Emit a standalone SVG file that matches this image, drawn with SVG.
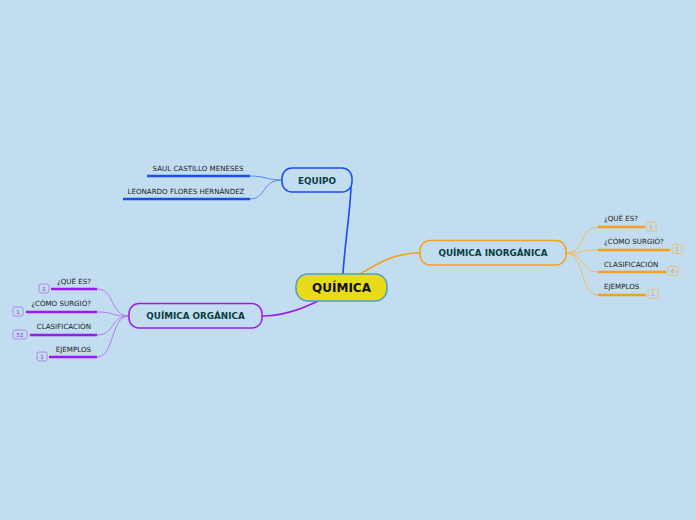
<svg xmlns="http://www.w3.org/2000/svg" width="696" height="520" viewBox="0 0 696 520">
<style>
.bg{fill:#c2ddf0}
.node{fill:#c2ddf0;stroke-width:1.5}
.nt{font-family:"DejaVu Sans",Verdana,sans-serif;font-weight:bold;font-size:8.8px;fill:#0b3d3d;text-anchor:middle}
.ct{font-family:"DejaVu Sans",Verdana,sans-serif;font-weight:bold;font-size:12px;fill:#111;text-anchor:middle}
.lt{font-family:"DejaVu Sans",Verdana,sans-serif;font-size:7.1px;fill:#222;text-anchor:middle}
.bt{font-family:"DejaVu Sans",Verdana,sans-serif;font-size:5.5px;text-anchor:middle}
.blue{stroke:#1a4cf0}
.orange{stroke:#f5a01a}
.purple{stroke:#9a1af0}
.thin{fill:none;stroke-width:0.9}
.main{fill:none;stroke-width:1.6}
.ul{stroke-width:2.4}
.badge{fill:#c2ddf0;stroke-width:0.8}
</style>
<rect class="bg" x="0" y="0" width="696" height="520"/>
<g id="connectors">
<path class="main blue" d="M343,274 C345,240 352,200 351,180"/>
<path class="main orange" d="M360,274 C380,262 395,253 420,253"/>
<path class="main purple" d="M318,301 C300,310 280,316 262,316"/>
<path class="thin blue" style="stroke:#4a7cf0" d="M250,176 C266,176 266,180 282,180"/>
<path class="thin blue" style="stroke:#4a7cf0" d="M250,199 C266,199 262,180 282,180"/>
<path class="thin orange" style="stroke:#f5b84a" d="M566,253 C585,253 580,227 598,227"/>
<path class="thin orange" style="stroke:#f5b84a" d="M566,253 C585,253 580,250 598,250"/>
<path class="thin orange" style="stroke:#f5b84a" d="M566,253 C585,253 580,272 598,272"/>
<path class="thin orange" style="stroke:#f5b84a" d="M566,253 C585,253 580,295 598,295"/>
<path class="thin purple" style="stroke:#b070f0" d="M129,316 C110,316 115,289 97,289"/>
<path class="thin purple" style="stroke:#b070f0" d="M129,316 C110,316 115,312 97,312"/>
<path class="thin purple" style="stroke:#b070f0" d="M129,316 C110,316 115,335 97,335"/>
<path class="thin purple" style="stroke:#b070f0" d="M129,316 C110,316 115,357 97,357"/>
</g>
<g id="quimica">
<rect x="296" y="274" width="91" height="27" rx="12" fill="#e8dc1a" stroke="#4a9fd0" stroke-width="1.5"/>
<text class="ct" x="341.5" y="292">QUÍMICA</text>
</g>
<g id="equipo">
<rect class="node blue" x="282" y="168" width="70" height="24" rx="10"/>
<text class="nt" x="317" y="184">EQUIPO</text>
</g>
<g id="saul">
<line class="ul blue" x1="147" y1="176" x2="250" y2="176"/>
<text class="lt" x="198" y="171">SAUL CASTILLO MENESES</text>
</g>
<g id="leonardo">
<line class="ul blue" x1="123" y1="199" x2="250" y2="199"/>
<text class="lt" x="186" y="194">LEONARDO FLORES HERNÁNDEZ</text>
</g>
<g id="inorganica">
<rect class="node orange" x="420" y="240.5" width="146" height="24.5" rx="10"/>
<text class="nt" x="493" y="256">QUÍMICA INORGÁNICA</text>
</g>
<g id="inorg-que">
<line class="ul orange" x1="598" y1="227" x2="645" y2="227"/>
<text class="lt" x="604" y="221" style="text-anchor:start">¿QUÉ ES?</text>
<rect class="badge orange" x="646" y="222" width="10" height="9" rx="2" style="stroke:#f5b84a"/>
<text class="bt" x="651" y="228.5" fill="#e09020">1</text>
</g>
<g id="inorg-como">
<line class="ul orange" x1="598" y1="250" x2="670" y2="250"/>
<text class="lt" x="604" y="244" style="text-anchor:start">¿CÓMO SURGIÓ?</text>
<rect class="badge orange" x="672" y="244.5" width="10" height="9" rx="2" style="stroke:#f5b84a"/>
<text class="bt" x="677" y="251" fill="#e09020">1</text>
</g>
<g id="inorg-clas">
<line class="ul orange" x1="598" y1="272" x2="666" y2="272"/>
<text class="lt" x="604" y="267" style="text-anchor:start">CLASIFICACIÓN</text>
<rect class="badge orange" x="668" y="266.5" width="10" height="9" rx="2" style="stroke:#f5b84a"/>
<text class="bt" x="673" y="273" fill="#e09020">6</text>
</g>
<g id="inorg-ej">
<line class="ul orange" x1="598" y1="295" x2="646" y2="295"/>
<text class="lt" x="604" y="289" style="text-anchor:start">EJEMPLOS</text>
<rect class="badge orange" x="648" y="289.5" width="10" height="9" rx="2" style="stroke:#f5b84a"/>
<text class="bt" x="653" y="296" fill="#e09020">1</text>
</g>
<g id="organica">
<rect class="node purple" x="129" y="303.5" width="133" height="24.5" rx="10"/>
<text class="nt" x="195.5" y="319">QUÍMICA ORGÁNICA</text>
</g>
<g id="org-que">
<line class="ul purple" x1="51" y1="289" x2="97" y2="289"/>
<text class="lt" x="91" y="284" style="text-anchor:end">¿QUÉ ES?</text>
<rect class="badge purple" x="39" y="284" width="10" height="9" rx="2" style="stroke:#b070f0"/>
<text class="bt" x="44" y="290.5" fill="#8a20e0">1</text>
</g>
<g id="org-como">
<line class="ul purple" x1="26" y1="312" x2="97" y2="312"/>
<text class="lt" x="91" y="306" style="text-anchor:end">¿CÓMO SURGIÓ?</text>
<rect class="badge purple" x="13" y="307" width="10" height="9" rx="2" style="stroke:#b070f0"/>
<text class="bt" x="18" y="313.5" fill="#8a20e0">1</text>
</g>
<g id="org-clas">
<line class="ul purple" x1="30" y1="335" x2="97" y2="335"/>
<text class="lt" x="91" y="329" style="text-anchor:end">CLASIFICACIÓN</text>
<rect class="badge purple" x="13" y="330" width="14" height="9" rx="2" style="stroke:#b070f0"/>
<text class="bt" x="20" y="336.5" fill="#8a20e0">52</text>
</g>
<g id="org-ej">
<line class="ul purple" x1="49" y1="357" x2="97" y2="357"/>
<text class="lt" x="91" y="352" style="text-anchor:end">EJEMPLOS</text>
<rect class="badge purple" x="37" y="352" width="10" height="9" rx="2" style="stroke:#b070f0"/>
<text class="bt" x="42" y="358.5" fill="#8a20e0">1</text>
</g>
</svg>
